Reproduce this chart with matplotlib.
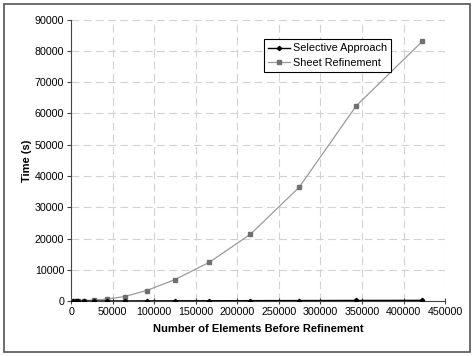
import matplotlib
matplotlib.use("Agg")
import matplotlib.pyplot as plt
from matplotlib.patches import Rectangle

plt.rcParams['font.family'] = ['Liberation Sans', 'DejaVu Sans']

# number of elements before refinement
elements = [2800, 6000, 8800, 16000, 27700, 42900, 64600, 91000, 125100,
            166500, 215800, 274400, 343000, 422400]
# time (s)
selective = [5, 10, 15, 25, 40, 60, 80, 100, 120, 140, 170, 200, 230, 260]
sheet = [50, 80, 120, 200, 350, 640, 1490, 3410, 6920, 12460, 21400,
         36400, 62400, 83000]

fig = plt.figure(figsize=(4.74, 3.56), dpi=100)
ax = fig.add_axes([0.150, 0.154, 0.789, 0.791])

ax.plot(elements, sheet, color='#9a9a9a', lw=0.9, marker='s', ms=3.5,
        mfc='#707070', mec='#707070', label='Sheet Refinement', zorder=3)
ax.plot(elements, selective, color='black', lw=1.0, marker='D', ms=2.2,
        mfc='black', mec='black', label='Selective Approach', zorder=4)

ax.set_xlim(0, 450000)
ax.set_ylim(0, 90000)
ax.set_xticks(range(0, 450001, 50000))
ax.set_yticks(range(0, 90001, 10000))
ax.tick_params(labelsize=7.7, length=3, color='#444444', pad=2)
ax.tick_params(axis='x', direction='inout', length=5)

ax.grid(True, color='#d2d2d2', linestyle=(0, (7, 4)), linewidth=0.8)
ax.set_axisbelow(True)
for s in ['top', 'right']:
    ax.spines[s].set_visible(False)
for s in ['left', 'bottom']:
    ax.spines[s].set_color('#444444')

ax.set_xlabel('Number of Elements Before Refinement', fontsize=8,
              fontweight='bold', labelpad=5)
ax.set_ylabel('Time (s)', fontsize=8, fontweight='bold', labelpad=2)

h, l = ax.get_legend_handles_labels()
leg = ax.legend(h[::-1], l[::-1], loc='upper left', bbox_to_anchor=(0.50, 0.95),
                fontsize=7.8, frameon=True, fancybox=False, edgecolor='black',
                framealpha=1, handlelength=2.0, borderpad=0.4, labelspacing=0.4,
                handletextpad=0.3)
leg.get_frame().set_linewidth(0.8)

fig.patches.append(Rectangle((0.008, 0.01), 0.984, 0.98, transform=fig.transFigure,
                             fill=False, edgecolor='#555555', linewidth=1.2))

fig.savefig('out.png', dpi=100)
